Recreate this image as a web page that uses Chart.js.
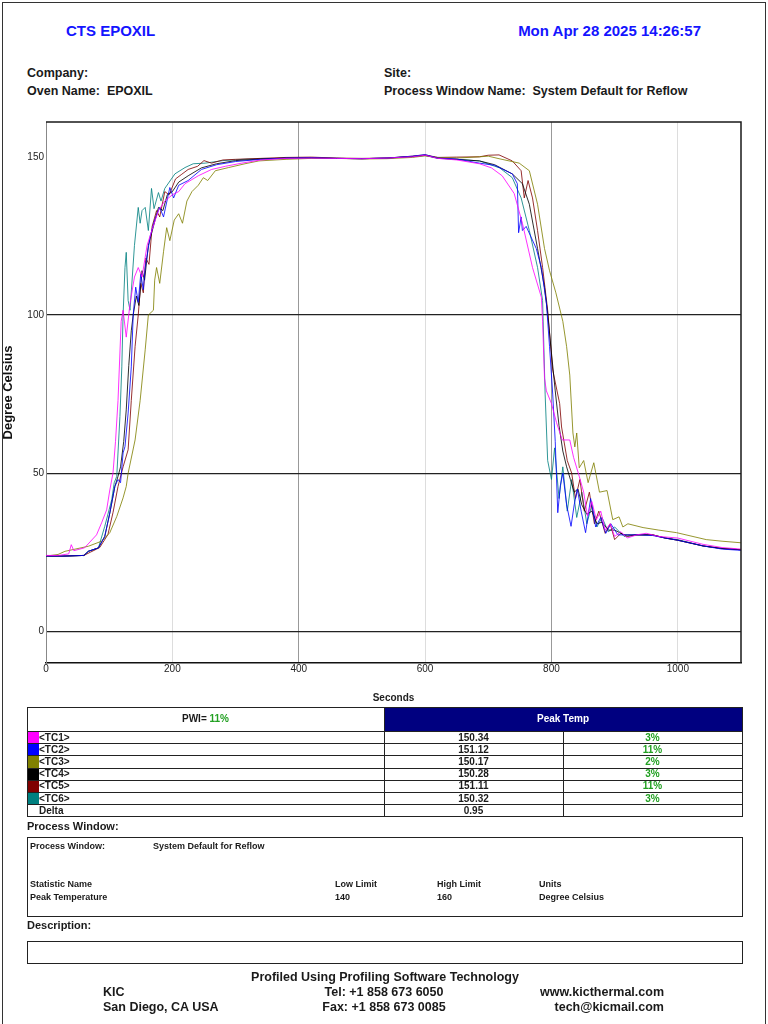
<!DOCTYPE html>
<html>
<head>
<meta charset="utf-8">
<title>CTS EPOXIL</title>
<script src="https://cdn.jsdelivr.net/npm/chart.js@4.4.1/dist/chart.umd.min.js"></script>
<style>
  body { margin: 0; background: #fff; font-family: "Liberation Sans", Arial, sans-serif; color: #1a1a1a; }
  #page { position: relative; width: 768px; height: 1024px; overflow: hidden; }
  #frame { position: absolute; left: 2px; top: 2px; width: 762px; height: 1040px; border: 1px solid #333; }
  .tx { position: absolute; white-space: pre; font-weight: bold; line-height: 1; }
  .blue { color: #1414ff; font-size: 15px; }
  .h12 { font-size: 12.5px; }
  .h11 { font-size: 11px; }
  .s9 { font-size: 9px; }
  .box { position: absolute; border: 1px solid #222; box-sizing: border-box; }
  #chartWrap { position: absolute; left: 0; top: 110px; width: 768px; height: 600px; }
  #tbl { position: absolute; left: 0; top: 0; width: 768px; height: 1024px; pointer-events: none; }
</style>
</head>
<body>
<div id="page">
  <div id="frame"></div>

  <div class="tx blue" style="left:66px;top:23px">CTS EPOXIL</div>
  <div class="tx blue" style="right:67px;top:23px">Mon Apr 28 2025 14:26:57</div>
  <div class="tx h12" style="left:27px;top:67px">Company:</div>
  <div class="tx h12" style="left:27px;top:85px">Oven Name:  EPOXIL</div>
  <div class="tx h12" style="left:384px;top:67px">Site:</div>
  <div class="tx h12" style="left:384px;top:85px">Process Window Name:  System Default for Reflow</div>

  <div id="chartWrap"><canvas id="profile" width="768" height="600"></canvas></div>

  <div id="tbl"></div>

  <div class="tx h11" style="left:27px;top:821px">Process Window:</div>
  <div class="box" style="left:27px;top:837px;width:716px;height:80px"></div>
  <div class="tx s9" style="left:30px;top:842px">Process Window:</div>
  <div class="tx s9" style="left:153px;top:842px">System Default for Reflow</div>
  <div class="tx s9" style="left:30px;top:880px">Statistic Name</div>
  <div class="tx s9" style="left:335px;top:880px">Low Limit</div>
  <div class="tx s9" style="left:437px;top:880px">High Limit</div>
  <div class="tx s9" style="left:539px;top:880px">Units</div>
  <div class="tx s9" style="left:30px;top:893px">Peak Temperature</div>
  <div class="tx s9" style="left:335px;top:893px">140</div>
  <div class="tx s9" style="left:437px;top:893px">160</div>
  <div class="tx s9" style="left:539px;top:893px">Degree Celsius</div>

  <div class="tx h11" style="left:27px;top:920px">Description:</div>
  <div class="box" style="left:27px;top:941px;width:716px;height:23px"></div>

  <div class="tx h12" style="left:0;width:770px;text-align:center;top:971px">Profiled Using Profiling Software Technology</div>
  <div class="tx h12" style="left:103px;top:986px">KIC</div>
  <div class="tx h12" style="left:103px;top:1001px">San Diego, CA USA</div>
  <div class="tx h12" style="left:0;width:768px;text-align:center;top:986px">Tel: +1 858 673 6050</div>
  <div class="tx h12" style="left:0;width:768px;text-align:center;top:1001px">Fax: +1 858 673 0085</div>
  <div class="tx h12" style="right:104px;top:986px">www.kicthermal.com</div>
  <div class="tx h12" style="right:104px;top:1001px">tech@kicmail.com</div>
</div>

<script>
// axis ticks
var xTicks = [0, 200, 400, 600, 800, 1000];
var yTicks = [0, 50, 100, 150];

// thermocouple traces (seconds, degree celsius)
var tc1Time = [0,20,36,40,44,61,80,88,96,101,106,110,114,119,122,127,133,140,146,152,160,168,178,188,200,210,220,241,262,284,310,340,380,420,460,500,540,580,600,620,650,686,705,722,741,754,770,784,786,789,792,800,808,817,829,835,844,851,857,864,871,878,885,893,900,910,920,935,950,970,1000,1040,1070,1100];
var tc1Temp = [24,24,24.5,27.4,25.5,26.4,30.5,34.3,38.4,44.7,50,60,73,98,101.5,93,103.7,112,115,112,122,127,133,136,138,139,141.5,144,146,147,148,149,149.5,149.6,149.5,149.4,149.6,150,150.5,149.5,149,147.8,146.5,144,138.4,129,115,105.6,98,80,76,72,66,60.5,60.5,55,49,44,36.5,41,35.3,38,32,34,30,31.5,29.5,30.5,31,30,29.5,27.5,26.5,26];

var tc2Time = [0,30,60,67,83,93,101,109,114,118,122,125,130,135,138,142,146,150,154,157,165,172,180,186,196,202,210,225,246,270,300,340,380,420,460,500,540,580,600,620,650,686,710,738,746,748,752,754,760,776,784,792,797,802,806,810,814,818,824,831,836,841,847,854,862,870,878,886,894,905,920,940,960,980,1000,1040,1070,1100];
var tc2Temp = [23.8,23.8,24,25.3,26.4,30,37.4,45.8,48,47,56.4,58.4,69,83.6,100,108.8,104,113,108,115,125,130,134,131,140.3,137,141,142.5,146,147.5,148.5,149.2,149.6,149.7,149.5,149.4,149.6,150.2,150.7,149.6,149.3,148,147.3,144.6,141.5,126,131,126.7,128,121,115,103.7,90,75,60,37.5,46,50,40,33.2,40,45,38,31.2,42,33,36,31,34,30.5,30.5,30.5,30.3,29.5,28.8,27,26,25.6];

var tc3Time = [0,19,30,67,88,101,112,122,127,130,141,149,157,162,170,172,175,180,186,191,196,203,210,216,223,231,241,249,256,268,289,315,337,380,420,460,500,540,580,600,620,650,686,700,717,749,765,778,789,797,807,818,824,829,834,837,840,844,851,858,867,876,888,897,907,913,921,945,970,998,1045,1070,1100];
var tc3Temp = [23.8,24.3,25.3,26.9,28.5,31.2,36.3,42.2,45.8,50,60.5,73,89,100,101.5,111,115,110,120,127.6,123.5,130,132,129,136,139,141,143.4,142.5,145.6,146.6,147.8,148.7,149.2,149.5,149.5,149.3,149.4,149.8,150.3,149.8,149.6,150,150.2,149.4,148,145.6,135,121,114,107,98,90,81,62.7,58.3,62.7,51.7,54,47,53.3,44,44.5,35.3,36.2,33,34,32.8,32,31.2,29,28.5,28];

var tc4Time = [0,30,60,67,83,93,101,109,114,118,123,127,131,135,138,143,147,152,156,162,170,178,185,192,200,210,225,246,270,300,340,380,420,460,500,540,580,600,620,650,686,710,738,754,765,778,789,794,800,806,812,818,824,830,836,842,848,856,864,872,880,890,900,915,935,960,980,1000,1040,1070,1100];
var tc4Temp = [23.8,23.8,24,25.3,26.4,30,37.4,45.8,49,52,60,70,84,95,100,106,103,114,111,122,128,134,133,138,139,142,144,146.5,147.8,148.8,149.3,149.6,149.7,149.5,149.4,149.6,150.1,150.5,149.6,149.2,148.7,147.5,144.6,141.5,135,121,108.7,100.5,88,76,65,57,52,48,44,45,40,37,38,34,34.5,32,32,30.5,30.5,30.5,29.5,28.8,27,26.2,25.8];

var tc5Time = [0,30,60,70,85,98,106,114,122,130,135,141,146,150,154,158,163,168,175,180,188,195,205,215,225,240,250,262,280,300,340,380,420,460,500,540,580,600,620,650,686,700,717,738,752,757,763,770,778,786,794,802,813,816,825,832,838,845,852,860,868,875,885,893,900,910,920,935,960,980,1000,1040,1070,1100];
var tc5Temp = [23.8,23.8,24,25,26.5,30.6,37.5,45.8,52,57.4,73,90,100,110,107,118,116,128,133,131,139,138,143,144.5,146,147,148.8,148,149,149.2,149.5,149.8,149.9,149.6,149.5,149.6,150.2,150.6,149.8,149.9,150,150.5,150.6,148.7,145.6,137,142.5,137,126.7,115,101.5,82.6,72,64.6,54,50,42,48,38,44,34,38,31,34,29,31,30,30.5,30.5,29.5,28.8,27,26.2,25.8];

var tc6Time = [0,30,60,67,83,93,104,108,112,117,120,122,125,127,130,133,140,146,149,152,157,162,167,171,178,182,188,204,220,233,252,280,320,380,420,460,500,540,580,600,620,650,686,718,738,752,765,778,786,790,794,800,805,812,818,825,832,840,848,856,864,872,880,890,900,915,935,960,980,1000,1040,1070,1100];
var tc6Temp = [23.8,23.8,24,25.3,26.4,33.2,41.6,47,49,67.9,83.6,100,115,119.8,104.6,101.5,122,134,129,133,134,126.7,140,133.6,138.7,136,140,144.6,146.6,147.8,148,148.8,149.3,149.6,149.7,149.5,149.4,149.6,150,150.4,149.5,149.2,148.7,146.5,143.4,137,126.7,115,104.6,75,54,48,58,42,52,38,48,36,44,34,40,33,36,31.5,33,30,30.5,30.5,29.5,29,27,26.2,25.8];

// peak temperature table
var tcNames = ['<TC1>', '<TC2>', '<TC3>', '<TC4>', '<TC5>', '<TC6>'];
var tcColors = ['#ff00ff', '#0000ff', '#808000', '#000000', '#800000', '#008080'];
var peakTemps = ['150.34', '151.12', '150.17', '150.28', '151.11', '150.32'];
var peakPwi = ['3%', '11%', '2%', '3%', '11%', '3%'];
var peakDelta = '0.95';
var pwiTotal = '11%';

var times = [tc1Time, tc2Time, tc3Time, tc4Time, tc5Time, tc6Time];
var temps = [tc1Temp, tc2Temp, tc3Temp, tc4Temp, tc5Temp, tc6Temp];

var datasets = tcNames.map(function (name, i) {
  return {
    label: name,
    data: times[i].map(function (t, j) { return { x: t, y: temps[i][j] }; }),
    borderColor: tcColors[i] + 'd0',
    borderWidth: 1,
    pointRadius: 0,
    tension: 0
  };
});

// black top/right edge of the plot box
var plotFrame = {
  id: 'plotFrame',
  afterDatasetsDraw: function (chart) {
    var a = chart.chartArea, ctx = chart.ctx;
    ctx.save();
    ctx.strokeStyle = '#1a1a1a';
    ctx.lineWidth = 1.5;
    ctx.beginPath();
    ctx.moveTo(a.left, a.top);
    ctx.lineTo(a.right, a.top);
    ctx.lineTo(a.right, a.bottom);
    ctx.stroke();
    ctx.restore();
  }
};

Chart.defaults.font.family = '"Liberation Sans", Arial, sans-serif';
Chart.defaults.color = '#222';

new Chart('profile', {
  type: 'line',
  data: { datasets: datasets },
  options: {
    responsive: false,
    animation: false,
    layout: { padding: { left: 0, right: 27, top: 12, bottom: 0 } },
    plugins: { legend: { display: false }, tooltip: { enabled: false } },
    scales: {
      x: {
        type: 'linear',
        min: 0,
        max: 1100,
        afterBuildTicks: function (s) { s.ticks = xTicks.map(function (v) { return { value: v }; }); },
        afterFit: function (s) { s.height = 47; },
        ticks: { font: { size: 10 }, padding: 0, maxRotation: 0, callback: function (v) { return String(v); } },
        grid: {
          drawTicks: false,
          color: function (c) {
            var v = c.tick ? c.tick.value : null;
            if (v === 0) return '#888';
            return v % 400 === 0 ? '#999' : '#ddd';
          }
        },
        border: { color: '#111', width: 1.5 },
        title: { display: true, text: 'Seconds', font: { size: 10, weight: 'bold' }, color: '#222', padding: { top: 0, bottom: 6 } }
      },
      y: {
        type: 'linear',
        min: -10,
        max: 161,
        afterBuildTicks: function (s) { s.ticks = yTicks.map(function (v) { return { value: v }; }); },
        afterFit: function (s) { s.width = 46; },
        ticks: { font: { size: 10 }, padding: 2 },
        grid: {
          drawTicks: false,
          lineWidth: 1.2,
          color: function (c) {
            var v = c.tick ? c.tick.value : null;
            return v === 150 ? 'rgba(0,0,0,0)' : '#222';
          }
        },
        border: { color: '#888' },
        title: { display: true, text: 'Degree Celsius', font: { size: 13, weight: 'bold' }, color: '#111', padding: { top: 1, bottom: 0 } }
      }
    }
  },
  plugins: [plotFrame]
});

// peak temperature table
(function () {
  var tbl = document.getElementById('tbl');
  function el(l, t, w, h, css, text) {
    var d = document.createElement('div');
    d.style.cssText = 'position:absolute;left:' + l + 'px;top:' + t + 'px;width:' + w + 'px;height:' + h + 'px;' + (css || '');
    if (text !== undefined) d.innerHTML = text;
    tbl.appendChild(d);
    return d;
  }
  var cell = 'font-weight:bold;font-size:10px;line-height:12px;white-space:pre;';
  var left = 27, right = 742, mid1 = 384, mid2 = 563, top = 707, headBottom = 731, rowH = 12.2;
  var rows = tcNames.length + 1;
  var bottom = headBottom + rows * rowH;

  el(mid1 + 1, top, right - mid1 - 1, headBottom - top, 'background:#000080;');
  el(left, top + 6, mid1 - left, 14, cell + 'text-align:center;', 'PWI= <span style="color:#22a022">' + pwiTotal + '</span>');
  el(mid1, top + 6, right - mid1, 14, cell + 'text-align:center;color:#fff;', 'Peak Temp');

  for (var i = 0; i < rows; i++) {
    var y = headBottom + i * rowH;
    if (i < tcNames.length) {
      el(left, y, 12, rowH, 'background:' + tcColors[i] + ';');
      el(left + 12, y + 0.5, 100, rowH, cell, tcNames[i].replace('<', '&lt;').replace('>', '&gt;'));
      el(mid1, y + 0.5, mid2 - mid1, rowH, cell + 'text-align:center;', peakTemps[i]);
      el(mid2, y + 0.5, right - mid2, rowH, cell + 'text-align:center;color:#22a022;', peakPwi[i]);
    } else {
      el(left + 12, y + 0.5, 100, rowH, cell, 'Delta');
      el(mid1, y + 0.5, mid2 - mid1, rowH, cell + 'text-align:center;', peakDelta);
    }
  }

  var line = 'background:#222;';
  el(left, top, right - left + 1, 1, line);
  el(left, headBottom, right - left + 1, 1, line);
  for (var r = 1; r <= rows; r++) {
    el(left, Math.round(headBottom + r * rowH), right - left + 1, 1, line);
  }
  el(left, top, 1, bottom - top + 1, line);
  el(mid1, top, 1, bottom - top + 1, line);
  el(mid2, headBottom, 1, bottom - headBottom + 1, line);
  el(right, top, 1, bottom - top + 1, line);
})();
</script>
</body>
</html>
